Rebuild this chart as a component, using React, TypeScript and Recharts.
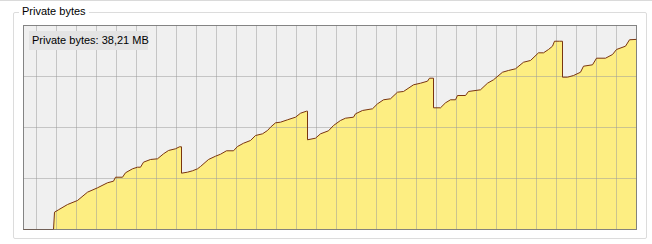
import React from "react";
import { ComposedChart, Area, Line, XAxis, YAxis, CartesianGrid } from "recharts";

// sample index (time) and private bytes in MB
const sampleIndex: number[] = [
  0, 30, 31, 35, 44, 54, 64, 74, 84, 90, 92, 99, 102, 109, 114, 117, 120, 127, 134, 140,
  145, 152, 156, 158, 158, 164, 169, 174, 177, 185, 192, 197, 203, 210, 214, 220, 227, 232, 239, 244,
  247, 252, 257, 264, 272, 277, 283, 284, 284, 292, 297, 305, 310, 317, 322, 330, 332, 339, 349, 354,
  360, 367, 374, 380, 390, 397, 404, 406, 410, 410, 417, 422, 427, 432, 434, 442, 445, 457, 464, 470,
  479, 485, 492, 500, 507, 515, 520, 525, 529, 531, 536, 539, 539, 544, 550, 557, 560, 569, 573, 582,
  589, 593, 602, 606, 613,
];
const privateBytesMB: number[] = [
  0, 0, 3.48, 3.96, 5.02, 5.83, 7.5, 8.38, 9.39, 9.71, 10.51, 10.51, 11.4, 12.2, 12.52, 12.52, 13.53, 14.07, 14.21, 15.21,
  15.88, 16.22, 16.62, 16.62, 11.32, 11.52, 11.8, 12.2, 12.66, 14.07, 14.73, 15.13, 15.82, 15.82, 16.68, 17.34, 17.89, 18.89, 19.23, 19.9,
  20.56, 21.44, 21.57, 22.05, 22.57, 23.37, 23.78, 23.78, 18.03, 18.35, 19.23, 19.84, 20.9, 21.91, 22.37, 22.57, 23.25, 23.92, 24.26, 25.26,
  26.07, 26.27, 27.6, 27.74, 29.08, 29.4, 29.81, 30.41, 30.41, 24.46, 24.46, 25.46, 26.07, 26.07, 26.93, 26.93, 27.74, 28.08, 29.4, 30.09,
  31.61, 31.96, 32.3, 33.62, 33.97, 35.51, 35.51, 36.18, 36.84, 37.84, 37.84, 37.84, 30.61, 30.61, 30.95, 31.61, 32.82, 33.1, 34.43, 34.43,
  35.17, 36.18, 36.84, 38.13, 38.21,
];
const yTicks: number[] = [0, 10.25, 20.5, 30.75, 41];
const xTicks: number[] = Array.from({ length: 30 }, (_, k) => 13 + 20 * k);

const title = "Private bytes";
const valueLabel = "Private bytes: 38,21 MB";

const data = sampleIndex.map((t, i) => ({ t, v: privateBytesMB[i] }));

const font = '"Liberation Sans", Arial, sans-serif';

export default function App() {
  const gridProps: any = { zIndex: 200 };
  const areaProps: any = { zIndex: 100 };
  const lineProps: any = { zIndex: 400 };
  return (
    <div style={{ position: "absolute", left: 0, top: 0, width: 652, height: 244, background: "#fff", overflow: "hidden" }}>
      <div style={{ position: "absolute", left: 0, top: 0, width: 652, height: 1, background: "#dadada" }} />
      <div
        style={{
          position: "absolute",
          left: 13,
          top: 12,
          width: 634,
          height: 227,
          boxSizing: "border-box",
          border: "1px solid #dcdcdc",
          borderRadius: 2,
        }}
      />
      <div
        style={{
          position: "absolute",
          left: 19,
          top: 5,
          padding: "0 3px",
          background: "#fff",
          fontFamily: font,
          fontSize: 11,
          lineHeight: "13px",
          color: "#000",
          whiteSpace: "nowrap",
        }}
      >
        {title}
      </div>
      <div style={{ position: "absolute", left: 23, top: 25, width: 614, height: 205, background: "#f0f0f0" }} />
      <div style={{ position: "absolute", left: 0, top: 0 }}>
        <ComposedChart
          width={652}
          height={244}
          data={data}
          margin={{ top: 25.5, right: 15.5, bottom: 14.5, left: 23.5 }}
        >
          <XAxis type="number" dataKey="t" domain={[0, 613]} ticks={xTicks} interval={0} hide />
          <YAxis type="number" domain={[0, 41]} ticks={yTicks} interval={0} hide />
          <Area
            type="linear"
            dataKey="v"
            stroke="none"
            fill="#fdee82"
            fillOpacity={1}
            isAnimationActive={false}
            dot={false}
            activeDot={false}
            {...areaProps}
          />
          <CartesianGrid stroke="#9a9a9a" strokeOpacity={0.5} fill="none" horizontal vertical {...gridProps} />
          <Line
            type="linear"
            dataKey="v"
            stroke="#7a3510"
            strokeWidth={1}
            dot={false}
            activeDot={false}
            isAnimationActive={false}
            {...lineProps}
          />
        </ComposedChart>
      </div>
      <div
        style={{
          position: "absolute",
          left: 23,
          top: 25,
          width: 614,
          height: 205,
          boxSizing: "border-box",
          border: "1px solid rgba(110,110,110,0.75)",
          pointerEvents: "none",
        }}
      />
      <div
        style={{
          position: "absolute",
          left: 29,
          top: 31,
          width: 119,
          height: 19,
          background: "#e4e4e4",
          fontFamily: font,
          fontSize: 11,
          lineHeight: "19px",
          color: "#000",
          paddingLeft: 3,
          boxSizing: "border-box",
          whiteSpace: "nowrap",
        }}
      >
        {valueLabel}
      </div>
    </div>
  );
}
